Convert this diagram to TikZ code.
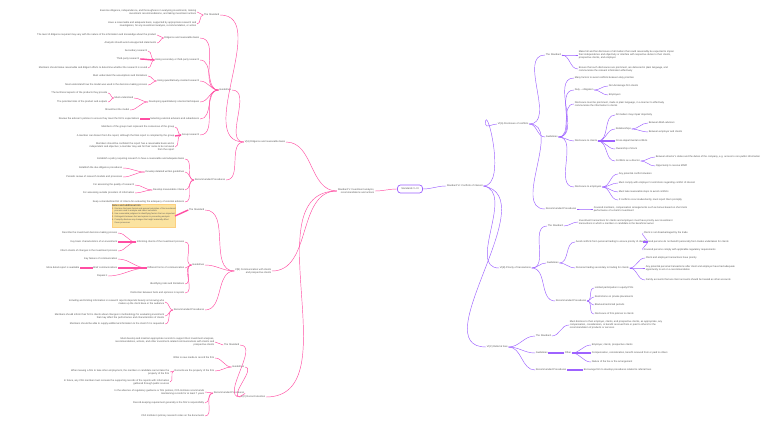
\documentclass[tikz,border=0pt]{standalone}
\usepackage{fontspec}
\setmainfont{Liberation Sans}
\definecolor{pk}{HTML}{FF4FA3}
\definecolor{pu}{HTML}{9E62FF}
\definecolor{tx}{HTML}{555555}
\definecolor{nt}{HTML}{FBE3A0}
\tikzset{
 lt/.style={anchor=east,inner sep=0.6pt,font=\fontsize{2.5}{3}\selectfont,text=tx,align=right},
 rt/.style={anchor=west,inner sep=0.6pt,font=\fontsize{2.5}{3}\selectfont,text=tx,align=left},
 pkl/.style={draw=pk,line width=0.45pt},
 pul/.style={draw=pu,line width=0.45pt},
 thk/.style={line width=1.4pt}
}
\newcommand\lk[3][]{\draw[pkl,#1] (#2.west) to[out=180,in=0] (#3.east);}
\newcommand\rk[3][]{\draw[pul,#1] (#2.east) to[out=0,in=180] (#3.west);}
\begin{document}
\begin{tikzpicture}[x=1pt,y=-1pt]
\useasboundingbox[fill=white] (0,0) rectangle (768,427);
% center
\node[draw=pu,rounded corners=3pt,line width=0.7pt,minimum width=25pt,minimum height=8pt,inner sep=0.5pt,font=\fontsize{2.5}{3}\selectfont,text=tx] (c) at (410,189) {Standards V--VI};
\node[lt] (L0) at (375,191) {Standard V: Investment analysis,\\ recommendations and actions};
\node[rt] (R0) at (446,186) {Standard VI: Conflicts of interest};
\draw[pkl] (c.west) to[out=180,in=0] (L0.east);
\draw[pul] (c.east) to[out=0,in=180] (R0.west);
% ===== LEFT =====
\node[lt] (A) at (286,142) {V(A) Diligence and reasonable basis};
\node[lt] (B) at (272,271) {V(B) Communication with clients\\ and prospective clients};
\node[lt] (C) at (266,397) {V(C) Record retention};
\lk{L0}{A}\lk{L0}{B}\lk{L0}{C}
% A
\node[lt] (As) at (220,15) {The Standard};
\node[lt] (Ag) at (232,90) {Guidelines};
\node[lt] (Ar) at (226,180) {Recommended Procedures};
\lk{A}{As}\lk{A}{Ag}\lk{A}{Ar}
\node[lt] (As1) at (197,12) {Exercise diligence, independence, and thoroughness in analyzing investments, making\\ investment recommendations, and taking investment actions};
\node[lt] (As2) at (197,24) {Have a reasonable and adequate basis, supported by appropriate research and\\ investigation, for any investment analysis, recommendation, or action};
\lk{As}{As1}\lk{As}{As2}
\node[lt] (g1) at (200,38) {Diligence and reasonable basis};
\node[lt] (g2) at (200,60) {Using secondary or third-party research};
\node[lt] (g3) at (200,81) {Using quantitatively oriented research};
\node[lt] (g4) at (200,102) {Developing quantitatively oriented techniques};
\node[lt] (g5) at (200,119) {Selecting external advisers and subadvisers};
\node[lt] (g6) at (200,135) {Group research};
\foreach \n in {g1,g2,g3,g4,g5,g6}{\lk{Ag}{\n}}
\node[lt] (g11) at (157,35) {The level of diligence required may vary with the nature of the information and knowledge about the product};
\node[lt] (g12) at (157,43) {Analysts should avoid unsupported statements};
\lk{g1}{g11}\lk{g1}{g12}
\node[lt] (g21) at (148,51) {Secondary research};
\node[lt] (g22) at (140,59) {Third-party research};
\node[lt] (g23) at (148,68) {Members should make reasonable and diligent efforts to determine whether the research is sound};
\lk{g2}{g21}\lk[thk]{g2}{g22}\lk{g2}{g23}
\node[lt] (g31) at (148,76) {Must understand the assumptions and limitations};
\node[lt] (g32) at (148,85) {Must understand how the model was used in the decision-making process};
\lk{g3}{g31}\lk{g3}{g32}
\node[lt] (g41) at (134,98) {Must understand};
\node[lt] (g42) at (130,110) {Should test the model};
\lk{g4}{g41}\lk{g4}{g42}
\node[lt] (g411) at (108,93) {The technical aspects of the products they provide};
\node[lt] (g412) at (108,102) {The potential risks of the product and outputs};
\lk{g41}{g411}\lk{g41}{g412}
\node[lt] (g51) at (140,119) {Review the adviser's policies to ensure they meet the firm's expectations};
\draw[pkl,thk] (g5.west) -- (g51.east);
\node[lt] (g61) at (175,127) {Members of the group must represent the consensus of the group};
\node[lt] (g62) at (175,136) {A member can dissent from the report, although the final report is compiled by the group};
\node[lt] (g63) at (175,147) {Members should be confident the report has a reasonable basis and is\\ independent and objective; a member may ask for their name to be removed\\ from the report};
\lk{g6}{g61}\lk[thk]{g6}{g62}\lk{g6}{g63}
\node[lt] (r1) at (185,159) {Establish a policy requiring research to have a reasonable and adequate basis};
\node[lt] (r2) at (185,172) {Develop detailed written guidelines};
\node[lt] (r3) at (185,190) {Develop measurable criteria};
\node[lt] (r4) at (185,202) {Keep a standardized list of criteria for evaluating the adequacy of external advisers};
\foreach \n in {r1,r2,r3,r4}{\lk{Ar}{\n}}
\node[lt] (r21) at (123,168) {Establish the due diligence procedures};
\node[lt] (r22) at (123,177) {Periodic review of research models and processes};
\lk{r2}{r21}\lk{r2}{r22}
\node[lt] (r31) at (135,185) {For assessing the quality of research};
\node[lt] (r32) at (135,193) {For assessing outside providers of information};
\lk{r3}{r31}\lk{r3}{r32}
% B
\node[lt] (Bs) at (205,210) {The Standard};
\node[lt] (Bg) at (205,265) {Guidelines};
\node[lt] (Br) at (205,310) {Recommended Procedures};
\lk{B}{Bs}\lk{B}{Bg}\lk{B}{Br}
\node[draw=nt!80!orange,fill=nt,anchor=east,minimum width=63pt,minimum height=23pt,inner sep=0pt] (note) at (175,216) {};
\node[anchor=north west,inner sep=0pt,font=\fontsize{2.4}{3}\selectfont\bfseries,text=tx] at (note.north west) {\,Notes and additional info};
\node[anchor=north west,inner sep=0pt,font=\fontsize{2.1}{2.9}\selectfont,text=tx,align=left] at ([yshift=-3pt]note.north west) {\,1. Disclose the basic format and general principles of the investment\\ \,\phantom{1. }process used to analyze and select securities\\ \,2. Use reasonable judgment in identifying factors that are important\\ \,3. Distinguish between fact and opinion in presenting analysis\\ \,4. Promptly disclose any changes that might materially affect\\ \,\phantom{4. }those processes};
\draw[pkl,thk] (Bs.west) -- (note.east);
\node[lt] (b1) at (185,242) {Informing clients of the investment process};
\node[lt] (b2) at (185,268) {Different forms of communication};
\node[lt] (b3) at (185,284) {Identifying risks and limitations};
\node[lt] (b4) at (185,293) {Distinction between facts and opinions in reports};
\foreach \n in {b1,b2,b3,b4}{\lk{Bg}{\n}}
\node[lt] (b11) at (118,233) {Describe the investment decision-making process};
\node[lt] (b12) at (118,242) {Key basic characteristics of an investment};
\node[lt] (b13) at (118,251) {Inform clients of changes in the investment process};
\lk{b1}{b11}\lk[thk]{b1}{b12}\lk{b1}{b13}
\node[lt] (b21) at (118,259) {Key feature of communication};
\node[lt] (b22) at (118,268) {Brief communications};
\node[lt] (b23) at (108,276) {Repeat it};
\lk{b2}{b21}\lk[thk]{b2}{b22}\lk{b2}{b23}
\node[lt] (b221) at (80,268) {More detail report is available};
\draw[pkl,thk] (b22.west) -- (b221.east);
\node[lt] (b51) at (165,302) {Including and limiting information in research reports depends heavily on knowing who\\ makes up the client base or the audience};
\node[lt] (b52) at (165,316) {Members should inform their firm's clients about changes in methodology for evaluating investment\\ that may affect the performance and characteristics of clients};
\node[lt] (b53) at (165,324) {Members should be able to supply additional information to the client if it is requested};
\foreach \n in {b51,b52,b53}{\lk{Br}{\n}}
% C
\node[lt] (Cs) at (240,345) {The Standard};
\node[lt] (Cg) at (245,367) {Guidelines};
\node[lt] (Cr) at (245,393) {Recommended Procedures};
\lk{C}{Cs}\lk{C}{Cg}\lk{C}{Cr}
\node[lt] (c1) at (215,342) {Must develop and maintain appropriate records to support their investment analyses,\\ recommendations, actions, and other investment-related communications with clients and\\ prospective clients};
\lk{Cs}{c1}
\node[lt] (c21) at (215,358) {What is new media to record the firm};
\node[lt] (c22) at (215,371) {Records are the property of the firm};
\lk{Cg}{c21}\lk{Cg}{c22}
\node[lt] (c221) at (170,372) {When leaving a firm to take other employment, the member or candidate cannot take the\\ property of the firm};
\node[lt] (c222) at (170,382) {In future, any CFA member must recreate the supporting records of the reports with information\\ gathered through public sources};
\lk{c22}{c221}\lk{c22}{c222}
\node[lt] (c31) at (205,392) {In the absence of regulatory guidance or firm policies, CFA Institute recommends\\ maintaining records for at least 7 years};
\node[lt] (c32) at (205,403) {Record-keeping requirement generally is the firm's responsibility};
\node[lt] (c33) at (205,416) {CFA Institute's primary research relies on the documents};
\foreach \n in {c31,c32,c33}{\lk{Cr}{\n}}
% ===== RIGHT =====
\node[rt] (P) at (497,124) {VI(A) Disclosure of conflicts};
\node[rt] (Q) at (499,268) {VI(B) Priority of transactions};
\node[rt] (S) at (486,347) {VI(C) Referral fees};
\draw[pul] (R0.east) to[out=0,in=90] ([xshift=2pt]R0.east|-P.west) to[out=-90,in=180] (P.west);
\draw[pul] (R0.east) to[out=-10,in=180] (Q.west);
\draw[pul] (R0.east) to[out=-10,in=180] (S.west);
% P
\node[rt] (Ps) at (545,55) {The Standard};
\node[rt] (Pg) at (545,137) {Guidelines};
\node[rt] (Pr) at (545,209) {Recommended Procedures};
\rk{P}{Ps}\rk{P}{Pg}\rk{P}{Pr}
\node[rt] (ps1) at (578,55) {Make full and fair disclosure of all matters that could reasonably be expected to impair\\ their independence and objectivity or interfere with respective duties to their clients,\\ prospective clients, and employer};
\node[rt] (ps2) at (578,69) {Ensure that such disclosures are prominent, are delivered in plain language, and\\ communicate the relevant information effectively};
\rk{Ps}{ps1}\rk{Ps}{ps2}
\node[rt] (p1) at (574,78) {Many factors to avoid conflicts between duty priorities};
\node[rt] (p2) at (574,90) {Duty -- obligation};
\node[rt] (p3) at (574,104) {Disclosure must be prominent, made in plain language, in a manner to effectively\\ communicate the information to clients};
\node[rt] (p4) at (574,141) {Disclosure to clients};
\node[rt] (p5) at (574,187) {Disclosure to employers};
\foreach \n in {p1,p2,p3,p4,p5}{\rk{Pg}{\n}}
\node[rt] (p21) at (608,86) {Non-brokerage firm clients};
\node[rt] (p22) at (608,95) {Employers};
\rk{p2}{p21}\rk{p2}{p22}
\node[rt] (p41) at (615,115) {All matters may impair objectivity};
\node[rt] (p42) at (615,129) {Relationships};
\node[rt] (p43) at (615,141) {Cross-departmental conflicts};
\node[rt] (p44) at (615,149) {Ownership of stock};
\node[rt] (p45) at (615,161) {Conflicts as a director};
\rk{p4}{p41}\rk{p4}{p42}\rk[thk]{p4}{p43}\rk{p4}{p44}\rk{p4}{p45}
\node[rt] (p421) at (648,123) {Between M\&A advisors};
\node[rt] (p422) at (648,132) {Between employer and clients};
\rk{p42}{p421}\rk{p42}{p422}
\node[rt] (p451) at (655,157) {Between director's duties and the duties of the company, e.g. access to non-public information};
\node[rt] (p452) at (655,166) {Opportunity to receive MNPI};
\rk{p45}{p451}\rk{p45}{p452}
\node[rt] (p51) at (618,174) {Any potential conflict situation};
\node[rt] (p52) at (618,183) {Must comply with employer's restrictions regarding conflict of interest};
\node[rt] (p53) at (618,192) {Must take reasonable steps to avoid conflicts};
\node[rt] (p54) at (618,200) {If conflicts occur inadvertently, must report them promptly};
\foreach \n in {p51,p52,p53,p54}{\rk{p5}{\n}}
\node[rt] (pr1) at (593,209) {Covered members, compensation arrangements such as bonus based on short-term\\ performance of a client's investment};
\rk{Pr}{pr1}
% Q
\node[rt] (Qs) at (547,226) {The Standard};
\node[rt] (Qg) at (546,263) {Guidelines};
\node[rt] (Qr) at (555,301) {Recommended Procedures};
\rk{Q}{Qs}\rk{Q}{Qg}\rk{Q}{Qr}
\node[rt] (qs1) at (578,222) {Investment transactions for clients and employers must have priority over investment\\ transactions in which a member or candidate is the beneficial owner};
\rk{Qs}{qs1}
\node[rt] (q1) at (575,242) {Avoid conflicts from personal trading to ensure priority of clients};
\node[rt] (q2) at (575,268) {Personal trading secondary to trading for clients};
\rk{Qg}{q1}\rk{Qg}{q2}
\node[rt] (q11) at (643,233) {Client is not disadvantaged by the trade};
\node[rt] (q12) at (643,242) {Covered persons do not benefit personally from trades undertaken for clients};
\node[rt] (q13) at (643,250) {Covered persons comply with applicable regulatory requirements};
\rk{q1}{q11}\rk[thk]{q1}{q12}\rk{q1}{q13}
\node[rt] (q21) at (645,258) {Client and employer transactions have priority};
\node[rt] (q22) at (645,268) {Any potential personal transactions after client and employer have had adequate\\ opportunity to act on a recommendation};
\node[rt] (q23) at (645,280) {Family accounts that are client accounts should be treated as other accounts};
\rk{q2}{q21}\rk{q2}{q22}\rk{q2}{q23}
\node[rt] (q31) at (594,288) {Limited participation in equity IPOs};
\node[rt] (q32) at (594,297) {Restrictions on private placements};
\node[rt] (q33) at (594,305) {Blackout/restricted periods};
\node[rt] (q34) at (594,314) {Disclosure of firm policies to clients};
\foreach \n in {q31,q32,q33,q34}{\rk{Qr}{\n}}
% S
\node[rt] (Ss) at (535,336) {The Standard};
\node[rt] (Sg) at (535,353) {Guidelines};
\node[rt] (Sr) at (535,370) {Recommended Procedures};
\rk{S}{Ss}\rk{S}{Sg}\rk{S}{Sr}
\node[rt] (ss1) at (569,325) {Must disclose to their employer, clients, and prospective clients, as appropriate, any\\ compensation, consideration, or benefit received from or paid to others for the\\ recommendation of products or services};
\rk{Ss}{ss1}
\node[rt] (so) at (564,353) {Other};
\draw[pul,thk] (Sg.east) -- (so.west);
\node[rt] (so1) at (591,345) {Employer, clients, prospective clients};
\node[rt] (so2) at (591,353) {Compensation, consideration, benefit received from or paid to others};
\node[rt] (so3) at (591,362) {Nature of the fee or the arrangement};
\rk{so}{so1}\rk[thk]{so}{so2}\rk{so}{so3}
\node[rt] (sr1) at (583,370) {Encourage firm to develop procedures related to referral fees};
\draw[pul,thk] (Sr.east) -- (sr1.west);
\end{tikzpicture}
\end{document}
